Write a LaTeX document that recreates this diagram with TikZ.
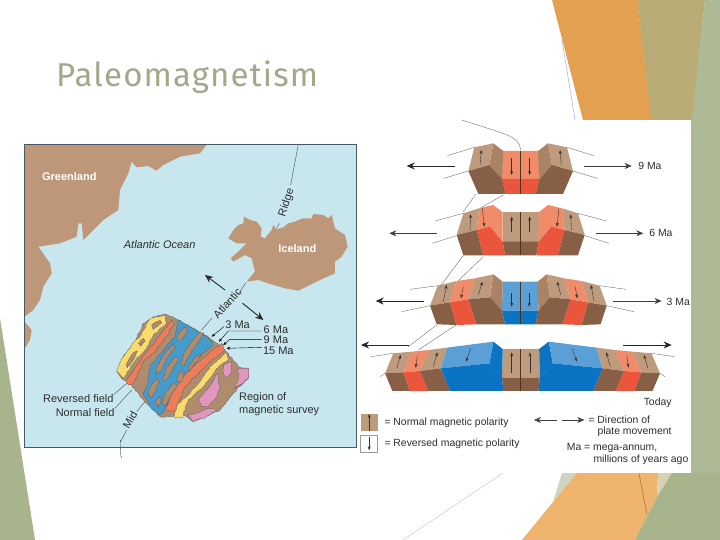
\documentclass[tikz,border=0pt]{standalone}
\usepackage{fontspec}
\setmainfont{Liberation Sans}
\newfontfamily\titlefont[LetterSpace=3.5]{Fira Sans}
\usetikzlibrary{arrows.meta,decorations.pathmorphing}
\pgfmathsetseed{17}
\definecolor{gbg}{RGB}{174,185,150}
\definecolor{gdk}{RGB}{168,180,140}
\definecolor{org}{RGB}{226,160,80}
\definecolor{orl}{RGB}{238,180,110}
\definecolor{tanb}{RGB}{186,172,118}
\definecolor{sea}{RGB}{200,230,238}
\definecolor{land}{RGB}{190,150,120}
\definecolor{mapln}{RGB}{70,90,100}
\definecolor{txt}{RGB}{45,45,45}
\definecolor{ttan}{RGB}{190,155,125}
\definecolor{mbrn}{RGB}{170,130,100}
\definecolor{dbrn}{RGB}{135,95,70}
\definecolor{torg}{RGB}{240,140,105}
\definecolor{tred}{RGB}{235,85,60}
\definecolor{tblu}{RGB}{90,160,215}
\definecolor{dblu}{RGB}{10,115,195}
\definecolor{sbrn}{RGB}{175,140,110}
\definecolor{sblu}{RGB}{70,155,205}
\definecolor{sorg}{RGB}{235,125,90}
\definecolor{syel}{RGB}{250,220,110}
\definecolor{spnk}{RGB}{225,150,190}
\definecolor{sln}{RGB}{85,90,90}
\tikzset{
  x=1pt,y=-1pt,
  lbl/.style={inner sep=0pt,text=txt,font=\fontsize{10.4}{12}\selectfont},
  mlbl/.style={inner sep=0pt,text=txt,font=\fontsize{11}{13}\selectfont},
  lead/.style={draw=txt!85,line width=0.4pt},
  fault/.style={draw=black!55,line width=0.4pt},
  bigarrow/.style={draw=black!85,line width=0.9pt,-{Stealth[length=8pt,width=7pt]}},
  thinarrow/.style={draw=black!75,line width=0.5pt,-{Stealth[length=7pt,width=6pt]}},
  magup/.style={draw=black!80,line width=0.4pt,-{Stealth[length=4pt,width=3pt]}},
  smallarrow/.style={draw=black,line width=0.4pt,-{Stealth[length=3.5pt,width=3pt]}},
  stripe/.style={draw=sln,line width=0.25pt,decorate,decoration={random steps,segment length=2.6pt,amplitude=0.7pt}},
  isle/.style={fill=sbrn,draw=sln,line width=0.25pt,decorate,decoration={random steps,segment length=2pt,amplitude=0.45pt}},
  zoomA/.style={shift={(20,140)},x=0.3333pt,y=-0.3333pt},
  zoomB/.style={shift={(110,300)},x=0.3333pt,y=-0.3333pt},
}
\newcommand{\halfone}{%
  \fill[torg] (-54,108)--(0,108)--(0,192)--(-56,192)--cycle;
  \fill[tred] (-56,192)--(0,192)--(0,237)--(-45,237)--cycle;
  \fill[mbrn] (-82,85)--(-52,108)--(-56,192)--(-94,150)--cycle;
  \fill[ttan] (-139,97)--(-82,85)--(-94,150)--(-157,168)--cycle;
  \fill[dbrn] (-157,168)--(-94,150)--(-56,192)--(-45,237)--(-127,237)--cycle;
  \draw[magup] (-122,150)--(-118,105);
  \draw[magup] (-27,130)--(-27,180);
  \draw[fault] (-139,97)--(-220,122) (-157,168)--(-230,190);
}
\newcommand{\halftwo}{%
  \fill[ttan] (-54,292)--(0,292)--(0,380)--(-54,380)--cycle;
  \fill[dbrn] (-54,380)--(0,380)--(0,421)--(-47,421)--cycle;
  \fill[torg] (-82,270)--(-54,292)--(-54,380)--(-92,335)--(-132,345)--(-125,280)--cycle;
  \fill[ttan] (-172,295)--(-125,280)--(-132,345)--(-192,360)--cycle;
  \fill[tred] (-132,345)--(-92,335)--(-54,380)--(-47,421)--(-112,421)--cycle;
  \fill[dbrn] (-192,360)--(-132,345)--(-112,421)--(-172,421)--cycle;
  \draw[magup] (-152,345)--(-150,298);
  \draw[magup] (-115,280)--(-109,335);
  \draw[magup] (-27,350)--(-27,305);
  \draw[fault] (-172,295)--(-257,318) (-192,362)--(-265,385);
}
\newcommand{\halfthree}{%
  \fill[tblu] (-54,50)--(0,50)--(0,137)--(-56,137)--cycle;
  \fill[dblu] (-56,137)--(0,137)--(0,178)--(-47,178)--cycle;
  \fill[mbrn] (-82,28)--(-54,50)--(-56,137)--(-92,97)--cycle;
  \fill[ttan] (-249,62)--(-192,48)--(-212,112)--(-272,122)--cycle;
  \fill[torg] (-192,48)--(-137,40)--(-157,103)--(-212,112)--cycle;
  \fill[ttan] (-137,40)--(-82,28)--(-92,97)--(-157,103)--cycle;
  \fill[dbrn] (-272,122)--(-212,112)--(-192,180)--(-252,178)--cycle;
  \fill[tred] (-212,112)--(-157,103)--(-132,178)--(-192,180)--cycle;
  \fill[dbrn] (-157,103)--(-92,97)--(-56,137)--(-47,178)--(-132,178)--cycle;
  \draw[magup] (-232,110)--(-222,60);
  \draw[magup] (-172,65)--(-179,100);
  \draw[magup] (-127,90)--(-115,50);
  \draw[magup] (-27,85)--(-27,125);
  \draw[fault] (-249,62)--(-332,73) (-272,122)--(-357,140);
}
\newcommand{\halffour}{%
  \fill[ttan] (-54,252)--(0,252)--(0,338)--(-56,338)--cycle;
  \fill[dbrn] (-56,338)--(0,338)--(0,378)--(-52,378)--cycle;
  \fill[dblu] (-82,230)--(-54,252)--(-56,338)--(-94,295)--cycle;
  \fill[tblu] (-222,248)--(-82,230)--(-94,295)--(-239,310)--cycle;
  \fill[ttan] (-275,255)--(-222,248)--(-239,310)--(-302,318)--cycle;
  \fill[torg] (-327,260)--(-275,255)--(-302,318)--(-352,322)--cycle;
  \fill[ttan] (-382,265)--(-327,260)--(-352,322)--(-407,325)--cycle;
  \fill[dbrn] (-407,325)--(-352,322)--(-332,378)--(-385,378)--cycle;
  \fill[tred] (-352,322)--(-302,318)--(-277,378)--(-332,378)--cycle;
  \fill[dbrn] (-302,318)--(-239,310)--(-212,378)--(-277,378)--cycle;
  \fill[dblu] (-239,310)--(-94,295)--(-56,338)--(-52,378)--(-212,378)--cycle;
  \draw[magup] (-372,310)--(-360,270);
  \draw[magup] (-310,272)--(-315,308);
  \draw[magup] (-262,305)--(-250,262);
  \draw[magup] (-150,250)--(-164,290);
  \draw[magup] (-27,325)--(-27,262);
  \draw[fault] (-382,265)--(-449,275) (-407,325)--(-422,335);
}
\begin{document}
\begin{tikzpicture}
\useasboundingbox (0,0) rectangle (720,540);
\fill[white] (0,0) rectangle (720,540);
% slide decoration
\fill[org] (552,0)--(637,0)--(652,120)--(583,120)--cycle;
\fill[tanb] (637,0)--(705,0)--(692,125)--(652,125)--cycle;
\fill[gbg] (705,0)--(720,0)--(720,540)--(680,540)--(680,120)--(692,120)--cycle;
\fill[gbg!60!white] (562,473)--(577,473)--(553,502)--cycle;
\fill[orl] (577,473)--(658,473)--(657,497)--(635,540)--(522,540)--(553,502)--cycle;
\fill[tanb!55!white] (658,473)--(672,473)--(657,497)--cycle;
\fill[gdk] (672,473)--(720,473)--(720,540)--(635,540)--(657,497)--cycle;
\fill[gdk] (0,318)--(35,540)--(0,540)--cycle;
\coordinate (s1) at (562,40); \coordinate (s2) at (575,120);
\draw[draw=black!35!blue!40,line width=0.4pt] (s1)--(s2);
\coordinate (s3) at (503,473); \coordinate (s4) at (403,540);
\draw[draw=black!25,line width=0.4pt] (s3)--(s4);
\coordinate (s5) at (639,473); \coordinate (s6) at (647,515);
\draw[draw=black!45!orl,line width=0.4pt] (s5)--(s6);
% title
\node[anchor=base west,inner sep=0pt,text=gbg!92!black,font=\titlefont\fontsize{33}{40}\selectfont] (title) at (56,87) {Paleomagnetism};
% right white panel
\fill[white] (357,120) rectangle (691,473);
% map
\fill[sea] (24,144) rectangle (356,447);
\begin{scope}[zoomA]
\fill[land] (14,14)--(560,14)--(540,40)--(480,50)--(430,75)--(410,92)--(385,78)--(350,82)--(335,65)--(325,100)--(300,150)--(295,210)--(250,240)--(215,275)--(190,300)--(185,250)--(175,250)--(170,290)--(120,310)--(55,320)--(90,370)--(95,400)--(70,440)--(60,480)--(40,510)--(14,530)--cycle;
\fill[land] (14,545)--(35,570)--(30,600)--(14,625)--cycle;
\fill[land] (625,295)--(640,270)--(655,255)--(670,250)--(672,230)--(690,240)--(710,245)--(725,265)--(722,290)--(735,295)--(755,270)--(760,255)--(770,268)--(790,262)--(805,250)--(825,245)--(835,240)--(850,235)--(875,235)--(880,222)--(910,225)--(925,235)--(935,225)--(945,265)--(975,285)--(983,320)--(965,350)--(945,365)--(945,400)--(900,420)--(860,440)--(835,452)--(795,445)--(745,430)--(715,420)--(680,425)--(705,395)--(695,355)--(675,345)--(640,365)--(632,355)--(660,330)--(680,310)--(650,310)--cycle;
\coordinate (r1) at (835,14); \coordinate (r2) at (812,135); \coordinate (r3) at (778,250); \coordinate (r4) at (770,265);
\draw[lead] (r1)--(r2) (r3)--(r4);
\coordinate (a1) at (678,428); \coordinate (a2) at (655,462); \coordinate (a3) at (575,535); \coordinate (a4) at (545,570);
\draw[lead] (a1)--(a2) (a3)--(a4);
\coordinate (m1) at (375,785); \coordinate (m2) at (350,815); \coordinate (m3) at (320,870); \coordinate (m4) at (302,905); \coordinate (m5) at (305,950);
\draw[lead] (m1)--(m2);
\draw[lead] (m3)--(m4) to[out=100,in=260] (m5);
\coordinate (p1) at (615,450); \coordinate (p2) at (555,405); \coordinate (p3) at (668,490); \coordinate (p4) at (730,540);
\draw[bigarrow] (p1)--(p2);
\draw[bigarrow] (p3)--(p4);
\end{scope}
% surveyed strip
\begin{scope}[zoomB]
\fill[sbrn,stripe] (20,215)--(40,170)--(75,125)--(100,70)--(130,50)--(165,42)--(195,55)--(250,85)--(300,115)--(345,150)--(385,200)--(415,205)--(415,235)--(370,280)--(330,330)--(250,365)--(220,345)--(195,350)--(150,350)--(110,310)--(60,250)--(35,235)--cycle;
\fill[sblu,stripe] (205,60)--(240,80)--(260,90)--(300,120)--(310,135)--(265,170)--(230,230)--(190,280)--(165,330)--(150,345)--(125,325)--(100,285)--(115,245)--(120,200)--(160,150)--(195,110)--(200,80)--cycle;
\fill[syel,stripe] (20,215)--(35,175)--(65,135)--(90,110)--(120,55)--(165,45)--(170,70)--(130,105)--(105,150)--(70,190)--(40,235)--cycle;
\fill[sorg,stripe] (50,240)--(80,195)--(115,150)--(150,105)--(185,60)--(195,70)--(165,115)--(130,160)--(100,185)--(70,250)--(55,255)--cycle;
\fill[sorg,stripe] (335,130)--(345,150)--(300,185)--(265,220)--(225,260)--(195,335)--(165,330)--(185,280)--(215,235)--(255,195)--(295,160)--cycle;
\fill[syel,stripe] (350,155)--(355,180)--(320,205)--(280,260)--(235,300)--(215,355)--(190,350)--(205,310)--(235,285)--(265,250)--(300,200)--(335,170)--cycle;
\fill[spnk,stripe] (385,205)--(415,205)--(415,235)--(375,265)--(385,240)--cycle;
\fill[spnk,stripe] (265,300)--(290,270)--(310,245)--(322,220)--(330,260)--(320,290)--(295,320)--(275,320)--cycle;
\fill[spnk,stripe] (340,195)--(365,185)--(365,215)--(350,235)--(342,225)--cycle;
\fill[spnk,stripe] (232,345)--(255,340)--(300,325)--(320,330)--(290,350)--(250,365)--cycle;
\draw[isle] (205,100)--(225,80)--(232,95)--(215,120)--(200,120)--cycle;
\draw[isle] (240,130)--(270,95)--(282,100)--(262,130)--(235,170)--(222,198)--(212,195)--(222,160)--cycle;
\draw[isle] (140,200)--(165,160)--(190,130)--(195,145)--(170,175)--(155,212)--(138,222)--cycle;
\draw[isle] (168,205)--(195,170)--(205,175)--(190,205)--(170,238)--(158,242)--cycle;
\draw[isle] (120,260)--(140,235)--(148,245)--(135,275)--(125,295)--(114,285)--cycle;
\draw[isle] (165,280)--(190,250)--(203,255)--(180,290)--(165,320)--(157,310)--cycle;
\draw[isle] (205,220)--(225,215)--(215,245)--(200,245)--cycle;
\draw[isle] (235,200)--(262,165)--(275,165)--(250,198)--(238,215)--cycle;
\draw[isle] (135,305)--(148,290)--(155,300)--(145,322)--cycle;
\draw[isle] (48,195)--(70,158)--(82,153)--(70,180)--(52,203)--cycle;
\draw[isle] (125,75)--(150,60)--(155,68)--(130,88)--cycle;
\draw[isle] (85,130)--(100,115)--(105,122)--(92,138)--cycle;
\end{scope}
\begin{scope}[zoomA]
\coordinate (t3a) at (612,560); \coordinate (t3b) at (575,590);
\draw[smallarrow] (t3a)--(t3b);
\coordinate (t6a) at (725,573); \coordinate (t6b) at (625,573); \coordinate (t6c) at (597,605);
\draw[smallarrow] (t6a)--(t6b)--(t6c);
\coordinate (t9a) at (725,598); \coordinate (t9b) at (630,598); \coordinate (t9c) at (610,615);
\draw[smallarrow] (t9a)--(t9b)--(t9c);
\coordinate (t15a) at (725,622); \coordinate (t15b) at (620,625);
\draw[smallarrow] (t15a)--(t15b);
\coordinate (f1) at (280,765); \coordinate (f2) at (320,730); \coordinate (f3) at (285,805); \coordinate (f4) at (335,750);
\draw[lead] (f1)--(f2) (f3)--(f4);
\node[mlbl,text=white,font=\fontsize{11}{13}\selectfont\bfseries] (gl) at (148,111) {Greenland};
\node[mlbl,text=white,font=\fontsize{11}{13}\selectfont\bfseries] (il) at (832,326) {Iceland};
\node[mlbl,font=\fontsize{11}{13}\selectfont\itshape] (ao) at (419,314) {Atlantic Ocean};
\node[mlbl,rotate=72] (rl) at (800,188) {Ridge};
\node[mlbl,rotate=48] (al) at (622,490) {Atlantic};
\node[mlbl,rotate=60] (ml) at (330,840) {Mid};
\node[mlbl] (l3) at (653,553) {3 Ma};
\node[mlbl] (l6) at (768,568) {6 Ma};
\node[mlbl] (l9) at (768,600) {9 Ma};
\node[mlbl] (l15) at (775,632) {15 Ma};
\node[mlbl,anchor=east] (lr) at (281,776) {Reversed field};
\node[mlbl,anchor=east] (ln) at (284,819) {Normal field};
\node[mlbl,anchor=west] (lg) at (657,773) {Region of};
\node[mlbl,anchor=west] (lm) at (657,811) {magnetic survey};
\end{scope}
\draw[mapln,line width=0.8pt] (24,144) rectangle (356,447);
% plate blocks
\foreach \s/\t/\u in {1/1/1,-1/-0.95/-1.027}{
  \begin{scope}[shift={(520.67,115)},x=0.3333pt,y=-0.3333pt,xscale=\s]
    \halfone
    \halftwo
  \end{scope}
  \begin{scope}[shift={(520.67,265)},x=0.3333pt,y=-0.3333pt,xscale=\t]
    \halfthree
  \end{scope}
  \begin{scope}[shift={(520.67,265)},x=0.3333pt,y=-0.3333pt,xscale=\u]
    \halffour
  \end{scope}
}
\begin{scope}[shift={(355,115)},x=0.3333pt,y=-0.3333pt]
\coordinate (ax1) at (497,108); \coordinate (ax2) at (497,237);
\coordinate (ax3) at (497,292); \coordinate (ax4) at (497,421);
\draw[black!60!brown,line width=0.4pt] (ax1)--(ax2) (ax3)--(ax4);
\coordinate (c1) at (320,15); \coordinate (c2) at (430,50); \coordinate (c3) at (497,105);
\draw[fault] (c1)--(c2) to[out=-20,in=95] (c3);
\coordinate (g1) at (362,238); \coordinate (g2) at (325,290); \coordinate (g3) at (445,240); \coordinate (g4) at (378,278);
\draw[fault] (g1)--(g2) (g3)--(g4);
\coordinate (g5) at (325,421); \coordinate (g6) at (255,515); \coordinate (g7) at (385,425); \coordinate (g8) at (310,497);
\draw[fault] (g5)--(g6) (g7)--(g8);
\coordinate (w1) at (300,153); \coordinate (w2) at (155,153); \coordinate (e1) at (687,153); \coordinate (e2) at (830,153);
\draw[bigarrow] (w1)--(w2);
\draw[thinarrow] (e1)--(e2);
\coordinate (w3) at (245,355); \coordinate (w4) at (103,355); \coordinate (e3) at (722,355); \coordinate (e4) at (865,355);
\draw[thinarrow] (w3)--(w4);
\draw[thinarrow] (e3)--(e4);
\node[lbl] (m9) at (885,153) {9 Ma};
\node[lbl] (m6) at (918,355) {6 Ma};
\end{scope}
\begin{scope}[shift={(355,265)},x=0.3333pt,y=-0.3333pt]
\coordinate (ax5) at (497,50); \coordinate (ax6) at (497,178);
\coordinate (ax7) at (497,252); \coordinate (ax8) at (497,378);
\draw[black!60!brown,line width=0.4pt] (ax5)--(ax6) (ax7)--(ax8);
\coordinate (g9) at (245,180); \coordinate (g10) at (160,245); \coordinate (g11) at (303,180); \coordinate (g12) at (190,255);
\draw[fault] (g9)--(g10) (g11)--(g12);
\coordinate (w5) at (208,108); \coordinate (w6) at (62,108); \coordinate (e5) at (775,108); \coordinate (e6) at (920,108);
\draw[bigarrow] (w5)--(w6);
\draw[thinarrow] (e5)--(e6);
\coordinate (w7) at (163,240); \coordinate (w8) at (18,240); \coordinate (e7) at (805,240); \coordinate (e8) at (950,240);
\draw[bigarrow] (w7)--(w8);
\draw[bigarrow] (e7)--(e8);
\node[lbl] (m3) at (970,110) {3 Ma};
\node[lbl] (td) at (908,412) {Today};
% legend
\node[fill=ttan,minimum width=17pt,minimum height=16.5pt,inner sep=0pt] (kn) at (42.5,472) {};
\node[fill=white,draw=black!40,line width=0.4pt,minimum width=17pt,minimum height=17pt,inner sep=0pt] (kr) at (42.5,536) {};
\draw[magup] (kn.south)--(kn.north);
\draw[magup] ([yshift=-2pt]kr.north)--([yshift=2pt]kr.south);
\node[lbl,anchor=west] (tn) at (88,473) {= Normal magnetic polarity};
\node[lbl,anchor=west] (trv) at (88,535) {= Reversed magnetic polarity};
\coordinate (d1) at (605,465); \coordinate (d2) at (537,465); \coordinate (d3) at (620,465); \coordinate (d4) at (688,465);
\draw[thinarrow] (d1)--(d2);
\draw[thinarrow] (d3)--(d4);
\node[lbl,anchor=west] (td1) at (700,463) {= Direction of};
\node[lbl,anchor=west] (td2) at (727,500) {plate movement};
\node[lbl,anchor=west] (td3) at (635,548) {Ma = mega-annum,};
\node[lbl,anchor=west] (td4) at (715,583) {millions of years ago};
\end{scope}
\end{tikzpicture}
\end{document}
